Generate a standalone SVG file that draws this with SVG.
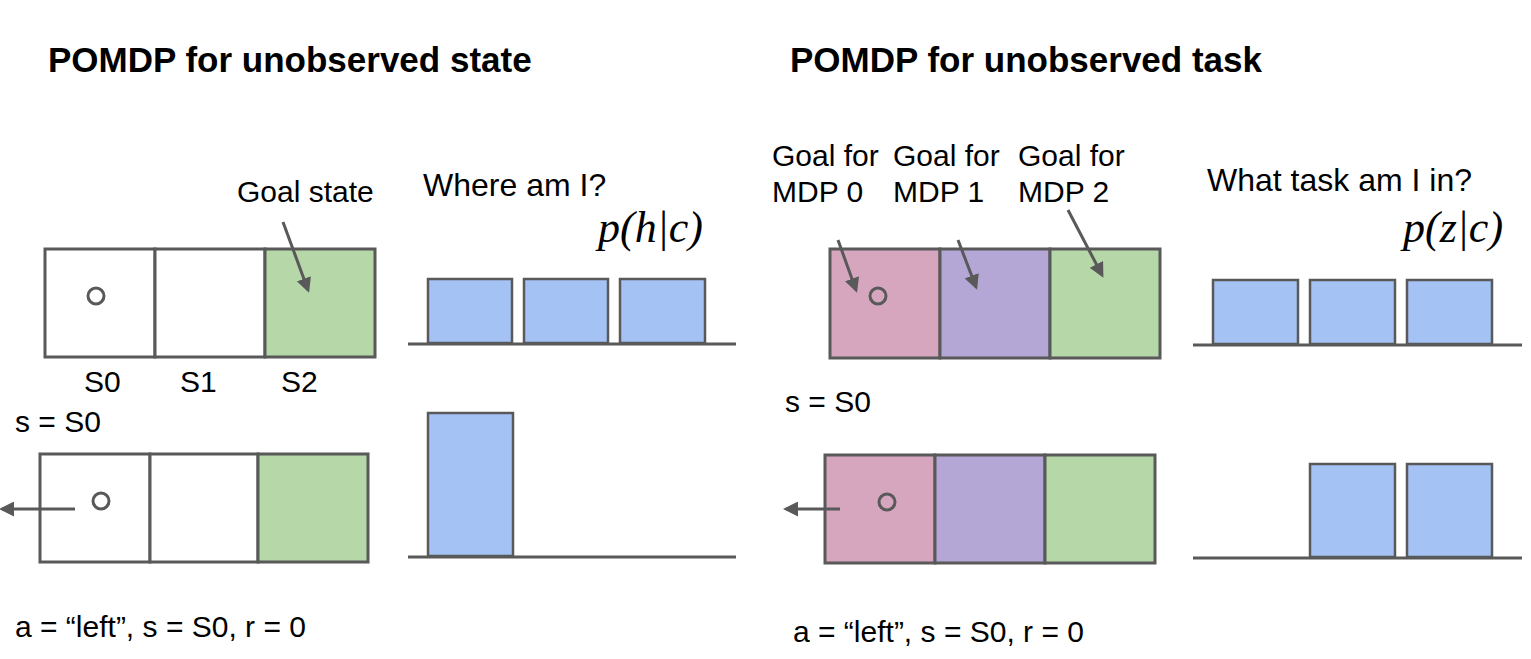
<svg xmlns="http://www.w3.org/2000/svg" width="1531" height="659" viewBox="0 0 1531 659">
<style>
.t{font-family:"Liberation Sans",Arial,sans-serif;font-size:30px;fill:#000}
.q{font-family:"Liberation Sans",Arial,sans-serif;font-size:32px;fill:#000}
.h{font-family:"Liberation Sans",Arial,sans-serif;font-size:35px;font-weight:bold;fill:#000}
.m{font-family:"Liberation Serif","DejaVu Serif",serif;font-size:44px;font-style:italic;fill:#000}
.c{stroke:#595959;stroke-width:3}
.b{fill:#a4c2f4;stroke:#595959;stroke-width:2.5}
.ln{stroke:#595959;stroke-width:3;fill:none}
.ar{stroke:#595959;stroke-width:3;fill:none;marker-end:url(#a)}
</style>
<defs><marker id="a" viewBox="0 0 10 10" refX="8" refY="5" markerWidth="5" markerHeight="5" orient="auto"><path d="M0,0L10,5L0,10z" fill="#595959"/></marker></defs>
<rect width="1531" height="659" fill="#fff"/>
<text class="h" x="48" y="72">POMDP for unobserved state</text>
<text class="h" x="790" y="72">POMDP for unobserved task</text>
<g id="left-top">
<rect class="c" x="45" y="249" width="110" height="108" fill="#fff"/>
<rect class="c" x="155" y="249" width="110" height="108" fill="#fff"/>
<rect class="c" x="265" y="249" width="110" height="108" fill="#b6d7a8"/>
<circle class="ln" cx="96" cy="296" r="8" stroke-width="2"/>
<text class="t" x="84" y="392">S0</text><text class="t" x="180" y="392">S1</text><text class="t" x="281" y="392">S2</text>
<text class="t" x="237" y="202">Goal state</text>
</g>
<g id="left-bottom">
<text class="t" x="15" y="432">s = S0</text>
<rect class="c" x="40" y="454" width="110" height="108" fill="#fff"/>
<rect class="c" x="150" y="454" width="108" height="108" fill="#fff"/>
<rect class="c" x="258" y="454" width="110" height="108" fill="#b6d7a8"/>
<circle class="ln" cx="101" cy="501" r="8" stroke-width="2"/>
<text class="t" x="15" y="637">a = “left”, s = S0, r = 0</text>
</g>
<g id="left-hist">
<text class="q" x="423" y="196">Where am I?</text>
<text class="m" x="598" y="242">p(h|c)</text>
<rect class="b" x="428" y="279" width="84" height="64"/>
<rect class="b" x="524" y="279" width="84" height="64"/>
<rect class="b" x="620" y="279" width="85" height="64"/>
<line class="ln" x1="408" y1="344" x2="736" y2="344"/>
<rect class="b" x="428" y="413" width="85" height="143"/>
<line class="ln" x1="408" y1="557" x2="736" y2="557"/>
</g>
<g id="right-top">
<rect class="c" x="830" y="249" width="110" height="109" fill="#d5a6bd"/>
<rect class="c" x="940" y="249" width="110" height="109" fill="#b4a7d6"/>
<rect class="c" x="1050" y="249" width="110" height="109" fill="#b6d7a8"/>
<circle class="ln" cx="878" cy="296" r="8" stroke-width="2"/>
<text class="t" x="772" y="166">Goal for</text><text class="t" x="772" y="202">MDP 0</text>
<text class="t" x="893" y="166">Goal for</text><text class="t" x="893" y="202">MDP 1</text>
<text class="t" x="1018" y="166">Goal for</text><text class="t" x="1018" y="202">MDP 2</text>
</g>
<g id="right-bottom">
<text class="t" x="785" y="412">s = S0</text>
<rect class="c" x="825" y="455" width="110" height="108" fill="#d5a6bd"/>
<rect class="c" x="935" y="455" width="110" height="108" fill="#b4a7d6"/>
<rect class="c" x="1045" y="455" width="110" height="108" fill="#b6d7a8"/>
<circle class="ln" cx="887" cy="502" r="8" stroke-width="2"/>
<text class="t" x="793" y="642">a = “left”, s = S0, r = 0</text>
</g>
<g id="right-hist">
<text class="q" x="1207" y="191">What task am I in?</text>
<text class="m" x="1403" y="242">p(z|c)</text>
<rect class="b" x="1213" y="280" width="85" height="64"/>
<rect class="b" x="1310" y="280" width="85" height="64"/>
<rect class="b" x="1407" y="280" width="85" height="64"/>
<line class="ln" x1="1193" y1="345" x2="1522" y2="345"/>
<rect class="b" x="1310" y="464" width="85" height="93"/>
<rect class="b" x="1407" y="464" width="85" height="93"/>
<line class="ln" x1="1193" y1="558" x2="1522" y2="558"/>
</g>
<g id="connectors">
<line class="ar" x1="283" y1="222" x2="308" y2="290"/>
<line class="ar" x1="75" y1="509" x2="2" y2="509"/>
<line class="ar" x1="838" y1="240" x2="856" y2="290"/>
<line class="ar" x1="958" y1="240" x2="976" y2="287"/>
<line class="ar" x1="1068" y1="210" x2="1102" y2="275"/>
<line class="ar" x1="840" y1="509" x2="786" y2="509"/>
</g>
</svg>
